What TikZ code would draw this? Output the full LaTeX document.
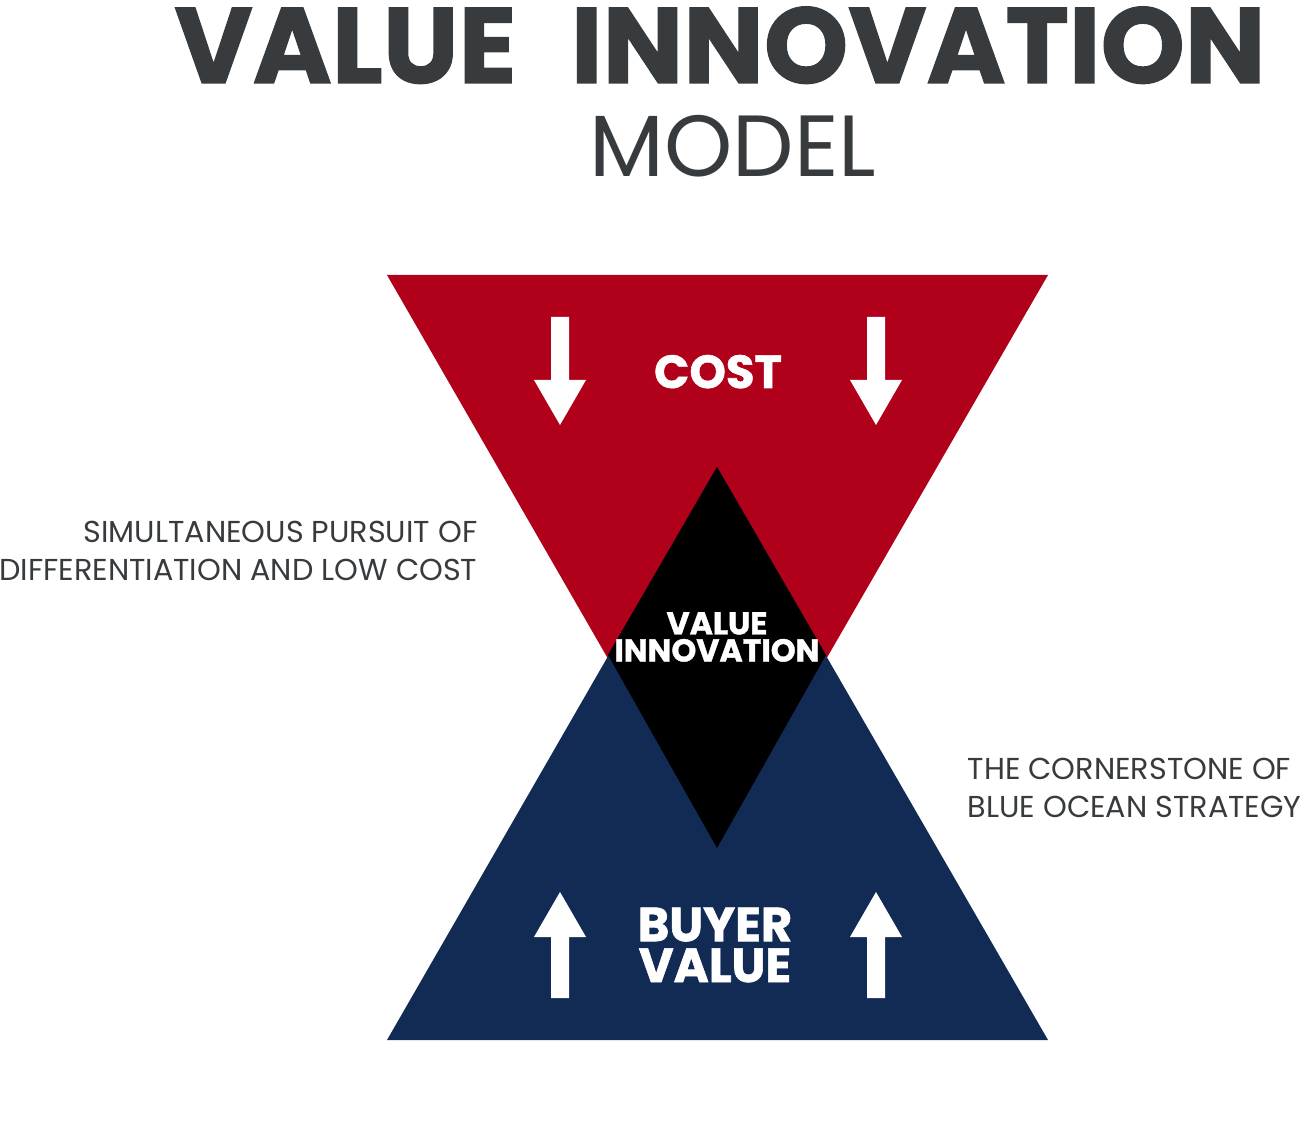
\documentclass[tikz,border=0pt]{standalone}
\usepackage{fontspec}
\setmainfont{Poppins}
\newfontfamily\heavyfont{Poppins}[BoldFeatures={FakeBold=1.2}]
\definecolor{costred}{HTML}{B0001A}
\definecolor{buyerblue}{HTML}{112B55}
\definecolor{textgray}{HTML}{383B3E}

\begin{document}
\begin{tikzpicture}[x=0.01cm, y=-0.01cm]
	\tikzstyle{side}   = [inner sep=0pt, text=textgray, font=\fontsize{8.6}{10.8}\selectfont]
	\tikzstyle{inside} = [inner sep=0pt, text=white, align=center]

	\useasboundingbox (0,0) rectangle (1300,1131);

	% corners of the two triangles
	\coordinate (costL) at (387,275);
	\coordinate (costR) at (1048,275);
	\coordinate (costTip) at (717,848);
	\coordinate (buyerL) at (387,1040);
	\coordinate (buyerR) at (1048,1040);
	\coordinate (buyerTip) at (717,467);
	\coordinate (meetL) at (608,655);
	\coordinate (meetR) at (826,655);

	\fill[costred] (costL) -- (costR) -- (costTip) -- cycle;
	\fill[buyerblue] (buyerL) -- (buyerR) -- (buyerTip) -- cycle;
	\fill[black] (buyerTip) -- (meetR) -- (costTip) -- (meetL) -- cycle;

	\foreach \x in {560, 876}
		\fill[white] (\x-9,317) -- (\x+9,317) -- (\x+9,380) -- (\x+26,380) -- (\x,425)
			-- (\x-26,380) -- (\x-9,380) -- cycle;

	\foreach \x in {560, 876}
		\fill[white] (\x-9,998) -- (\x+9,998) -- (\x+9,937) -- (\x+26,937) -- (\x,892)
			-- (\x-26,937) -- (\x-9,937) -- cycle;

	\node[anchor=base, inner sep=0pt, text=textgray, font=\fontsize{30.5}{31}\selectfont\heavyfont\bfseries] (title) at (720,83) {VALUE\hspace{9pt} INNOVATION};
	\node[anchor=base, inner sep=0pt, text=textgray, font=\fontsize{24.7}{26}\selectfont] (model) at (733,177) {MODEL};

	\node[inside, anchor=base, font=\fontsize{13.2}{14}\selectfont\heavyfont\bfseries] (cost) at (718,388) {COST};
	\node[inside, font=\fontsize{9}{7.7}\selectfont\heavyfont\bfseries] (vi) at (717,637) {VALUE\\INNOVATION};
	\node[inside, font=\fontsize{13.6}{11.6}\selectfont\heavyfont\bfseries] (buyer) at (715,945) {BUYER\\VALUE};

	\node[side, anchor=east, align=right] (pursuit) at (478,551) {SIMULTANEOUS PURSUIT OF\\DIFFERENTIATION AND LOW COST};
	\node[side, anchor=west, align=left] (corner) at (967,788) {THE CORNERSTONE OF\\BLUE OCEAN STRATEGY};
\end{tikzpicture}
\end{document}
